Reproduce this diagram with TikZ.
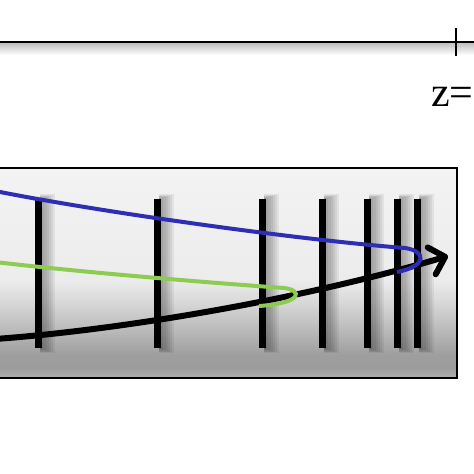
\documentclass[tikz,border=0pt]{standalone}
\usepackage{fontspec}
\setmainfont{Liberation Serif}
\usetikzlibrary{arrows.meta}
\definecolor{sA}{HTML}{B0B0B0}
\definecolor{sB}{HTML}{9C9C9C}
\definecolor{sC}{HTML}{9E9E9E}
\definecolor{sD}{HTML}{BABABA}
\definecolor{sE}{HTML}{DADADA}
\definecolor{sF}{HTML}{ECECEC}
\definecolor{sG}{HTML}{F3F3F3}
\definecolor{curveblue}{HTML}{2E2EB4}
\definecolor{curvegreen}{HTML}{8CCC50}
\pgfdeclareverticalshading{boxshade}{100bp}{color(0bp)=(sA); color(25bp)=(sA); color(27.4bp)=(sB); color(30.5bp)=(sC); color(36.4bp)=(sD); color(43.6bp)=(sE); color(48.3bp)=(sF); color(75bp)=(sG); color(100bp)=(sG)}
\begin{document}
\begin{tikzpicture}[x=1pt,y=-1pt,
  stripbar/.style={line width=7pt},
  stripshadow/.style={fill=black,opacity=0.06,draw=none},
  bluecurve/.style={draw=curveblue,line width=4pt},
  greencurve/.style={draw=curvegreen,line width=4pt},
  pathcurve/.style={draw=black,line width=6pt,line cap=round,
    -{Straight Barb[length=14pt,width=28pt,round]}},
  axisline/.style={line width=2pt}]
\useasboundingbox (0,0) rectangle (474,474);
% top axis shadow and line
\shade[top color=gray!50,bottom color=white,draw=none] (0,43) rectangle (474,55);
\draw[axisline] (-10,42) -- (484,42);
\draw[axisline] (456,28) -- (456,56);
\node[anchor=base west,inner sep=0pt,font=\fontsize{42}{46}\selectfont] (zlabel) at (431,106) {z=1};
% box
\draw[line width=2.5pt,shading=boxshade] (-10,168) rectangle (457,378);
% bars with soft shadows
\foreach \x in {38,157,262,322,367,397,417}{
  \foreach \i in {1,...,7}{
    \fill[stripshadow] (\x+2,199-0.7*\i) rectangle (\x+2+2.2*\i,348+0.7*\i);
  }
  \draw[stripbar] (\x,199) -- (\x,348);
}
% black trajectory
\draw[pathcurve] (-5,339) .. controls (120,330) and (300,300) .. (448,256);
% blue curve
\draw[bluecurve] (-5,191) .. controls (100,212) and (300,240) .. (405,248)
  .. controls (426,251) and (428,266) .. (397,272);
% green curve
\draw[greencurve] (-5,262) .. controls (80,272) and (200,282) .. (284,288)
  .. controls (302,290) and (304,303) .. (259,306);
\end{tikzpicture}
\end{document}
